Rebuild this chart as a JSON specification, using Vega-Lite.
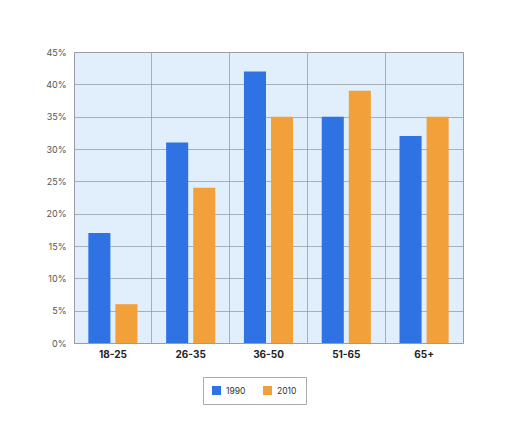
{
  "$schema": "https://vega.github.io/schema/vega-lite/v6.json",
  "width": 389,
  "height": 291,
  "autosize": {"type": "none"},
  "padding": {"left": 74, "top": 52, "right": 49, "bottom": 84},
  "background": "white",
  "data": {"values": [
    {"age": "18-25", "year": "1990", "pct": 0.17},
    {"age": "18-25", "year": "2010", "pct": 0.06},
    {"age": "26-35", "year": "1990", "pct": 0.31},
    {"age": "26-35", "year": "2010", "pct": 0.24},
    {"age": "36-50", "year": "1990", "pct": 0.42},
    {"age": "36-50", "year": "2010", "pct": 0.35},
    {"age": "51-65", "year": "1990", "pct": 0.35},
    {"age": "51-65", "year": "2010", "pct": 0.39},
    {"age": "65+", "year": "1990", "pct": 0.32},
    {"age": "65+", "year": "2010", "pct": 0.35}
  ]},
  "config": {
    "view": {"fill": "#e1eefb", "stroke": "#9a9ea4", "strokeWidth": 1},
    "font": "Inter"
  },
  "mark": {"type": "bar", "stroke": null},
  "encoding": {
    "x": {
      "field": "age", "type": "nominal", "sort": null,
      "scale": {"paddingInner": 0, "paddingOuter": 0},
      "axis": {
        "title": null, "labelAngle": 0, "bandPosition": 0,
        "grid": true, "gridColor": "#9a9ea4", "gridWidth": 0.8,
        "ticks": false, "domain": false,
        "labelFontWeight": "bold", "labelFontSize": 10, "labelColor": "#222",
        "labelPadding": 6, "labelBound": false
      }
    },
    "xOffset": {
      "field": "year", "type": "nominal",
      "scale": {"paddingInner": 0.185, "paddingOuter": 0.53}
    },
    "y": {
      "field": "pct", "type": "quantitative",
      "scale": {"domain": [0, 0.45]},
      "axis": {
        "title": null, "format": ".0%", "values": [0,0.05,0.1,0.15,0.2,0.25,0.3,0.35,0.4,0.45],
        "grid": true, "gridColor": "#9a9ea4", "gridWidth": 0.8,
        "ticks": false, "domain": false,
        "labelFontSize": 9, "labelColor": "#555", "labelPadding": 8
      }
    },
    "color": {
      "field": "year", "type": "nominal",
      "scale": {"domain": ["1990", "2010"], "range": ["#2f72e3", "#f1a03a"]},
      "legend": {
        "title": null, "orient": "none", "direction": "horizontal",
        "legendX": 129, "legendY": 325,
        "symbolType": "square", "symbolSize": 81, "symbolStrokeWidth": 0,
        "labelFontSize": 8.5, "labelColor": "#333", "labelOffset": 5,
        "columnPadding": 17, "padding": 9,
        "strokeColor": "#aaaaaa", "fillColor": "white"
      }
    }
  }
}
